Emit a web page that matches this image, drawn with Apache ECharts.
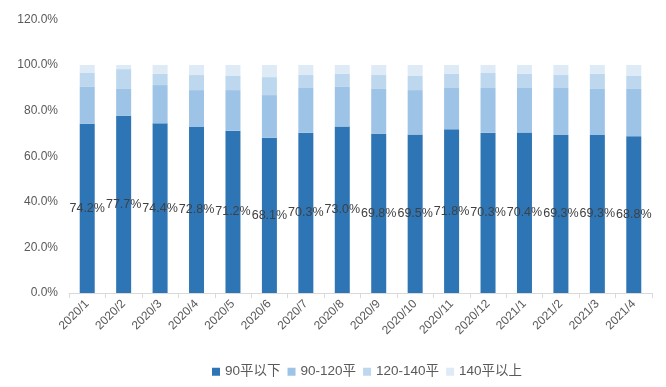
<!DOCTYPE html>
<html><head><meta charset="utf-8">
<script src="https://cdn.jsdelivr.net/npm/echarts@6/dist/echarts.min.js"></script>
<style>html,body{margin:0;padding:0;background:#fff}#c{width:666px;height:387px}</style>
</head><body><div id="c"></div>
<script>
const categories = ['2020/1','2020/2','2020/3','2020/4','2020/5','2020/6','2020/7','2020/8','2020/9','2020/10','2020/11','2020/12','2021/1','2021/2','2021/3','2021/4'];
const below90 = [74.2,77.7,74.4,72.8,71.2,68.1,70.3,73.0,69.8,69.5,71.8,70.3,70.4,69.3,69.3,68.8];
const s90to120 = [16.2,11.8,16.8,16.2,17.8,18.7,19.6,17.4,19.7,19.5,18.1,19.6,19.5,20.6,20.2,20.7];
const s120to140 = [6.1,8.7,4.9,6.6,6.2,7.9,5.7,5.7,6.1,6.2,6.2,6.6,6.2,5.7,6.6,5.7];
const above140 = [3.5,1.8,3.9,4.4,4.8,5.3,4.4,3.9,4.4,4.8,3.9,3.5,3.9,4.4,3.9,4.8];
const seriesNames = ['90平以下','90-120平','120-140平','140平以上'];
const yTicks = {min:0, max:120, interval:20};

const FONT = '"Liberation Sans","Noto Sans CJK SC",sans-serif';
const colors = ['#2E75B6','#9DC3E6','#BDD7EE','#DEEBF7'];
const data = [below90, s90to120, s120to140, above140];
const chart = echarts.init(document.getElementById('c'), null, {renderer:'canvas'});
chart.setOption({
  animation:false,
  color:colors,
  textStyle:{fontFamily:FONT},
  grid:{left:69,right:14,top:19.4,bottom:94},
  legend:{
    top:360,left:207,itemWidth:8,itemHeight:8,itemGap:7,
    icon:'rect',
    textStyle:{color:'#595959',fontSize:13.5,fontFamily:FONT,padding:[0,0,0,0]},
    data:seriesNames
  },
  xAxis:{
    type:'category',data:categories,
    axisLine:{lineStyle:{color:'#D9D9D9'}},
    axisTick:{show:true,length:5,lineStyle:{color:'#D9D9D9'}},
    axisLabel:{rotate:45,color:'#595959',fontSize:12,fontFamily:FONT,interval:0,margin:9}
  },
  yAxis:{
    type:'value',min:yTicks.min,max:yTicks.max,interval:yTicks.interval,
    splitLine:{show:false},axisLine:{show:false},axisTick:{show:false},
    axisLabel:{color:'#595959',fontSize:12,fontFamily:FONT,margin:11,
      formatter:v=>v.toFixed(1)+'%'}
  },
  series:data.map((d,i)=>({
    name:seriesNames[i],type:'bar',stack:'total',barWidth:15,data:d,
    itemStyle:{color:colors[i]},
    label: i===0 ? {show:true,position:'inside',color:'#404040',fontSize:12.5,fontFamily:FONT,
      formatter:p=>p.value.toFixed(1)+'%'} : {show:false}
  }))
});
</script></body></html>
